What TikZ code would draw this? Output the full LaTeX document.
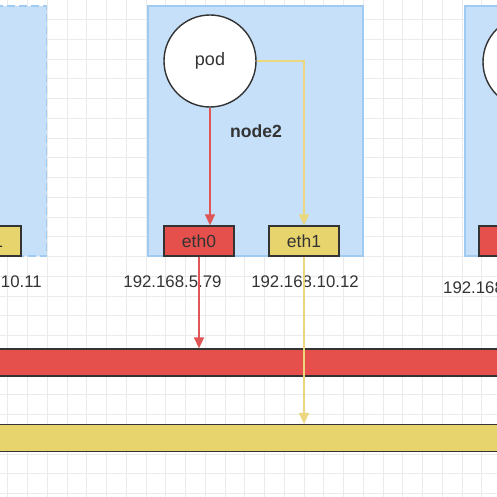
\documentclass[tikz,border=0pt]{standalone}
\usepackage{fontspec}
\setmainfont{Liberation Sans}
\usetikzlibrary{arrows.meta}
\definecolor{boxblue}{HTML}{C6E0FA}
\definecolor{boxedge}{HTML}{9FCBF2}
\definecolor{redfill}{HTML}{E5504C}
\definecolor{yelfill}{HTML}{E8D46C}
\definecolor{redline}{HTML}{E05555}
\definecolor{yelline}{HTML}{EBD77E}
\definecolor{gridc}{HTML}{EBEBEB}
\definecolor{txt}{HTML}{333333}
\tikzset{
  hostbox/.style={draw=boxedge, fill=boxblue, line width=1.2pt},
  podc/.style={circle, draw=txt, fill=white, line width=1.4pt, minimum size=92pt, inner sep=0pt, font=\fontsize{18}{20}\selectfont, text=txt},
  nic/.style={draw=txt, line width=1.3pt, minimum width=70pt, minimum height=30pt, inner sep=0pt, font=\fontsize{17.5}{19}\selectfont, text=txt},
  bus/.style={draw=txt, line width=1.3pt, minimum width=540pt, minimum height=27pt, inner sep=0pt},
  iplbl/.style={font=\fontsize{16.8}{18}\selectfont, text=txt, inner sep=0pt},
  redarr/.style={draw=redline, line width=1.4pt, -{Triangle[length=11pt,width=10pt]}},
  yelarr/.style={draw=yelline, line width=1.4pt, -{Triangle[length=11pt,width=10pt]}},
}
\begin{document}
\begin{tikzpicture}[x=1pt,y=-1pt]
\useasboundingbox (0,0) rectangle (497,497);
\clip (0,0) rectangle (497,497);
\fill[white] (0,0) rectangle (497,497);
% grid
\foreach \i in {0,...,25} {
  \draw[gridc, line width=0.8pt] (7.75+19.75*\i,0) -- (7.75+19.75*\i,497);
  \draw[gridc, line width=0.8pt] (0,-0.25+19.75*\i) -- (497,-0.25+19.75*\i);
}
% host boxes
\draw[hostbox, dashed, dash pattern=on 8pt off 4pt] (-10,6) rectangle (46.5,256);
\draw[hostbox] (148,6) rectangle (363,256);
\draw[hostbox] (465,6) rectangle (520,256);
% pods
\node[podc] (pod) at (210,61) {pod};
\node[podc] (podr) at (529,62) {};
\node[font=\bfseries\fontsize{17.6}{19}\selectfont, text=txt] (node2) at (256,131) {node2};
% nics
\node[nic, fill=redfill] (eth0) at (199,241) {eth0};
\node[nic, fill=yelfill] (eth1) at (304,241) {eth1};
\node[nic, fill=yelfill] (ethl) at (-14,241) {eth1};
\node[nic, fill=redfill] (ethr) at (514,241) {};
% ip labels
\node[iplbl, anchor=east] (ipl) at (42,282) {192.168.10.11};
\node[iplbl] (ip0) at (172.5,282) {192.168.5.79};
\node[iplbl] (ip1) at (305,282) {192.168.10.12};
\node[iplbl, anchor=west] (ipr) at (443,288) {192.168.5.80};
% buses
\node[bus, fill=redfill] (redbus) at (248,362.5) {};
\node[bus, fill=yelfill] (yelbus) at (248,438) {};
% connectors
\draw[redarr] (pod.south) -- (pod.south |- eth0.north);
\draw[redarr] (eth0.south) -- (eth0.south |- redbus.north);
\draw[yelarr] (pod.east) -| (eth1.north);
\draw[yelarr] (eth1.south) -- (eth1.south |- yelbus.north);
\end{tikzpicture}
\end{document}
